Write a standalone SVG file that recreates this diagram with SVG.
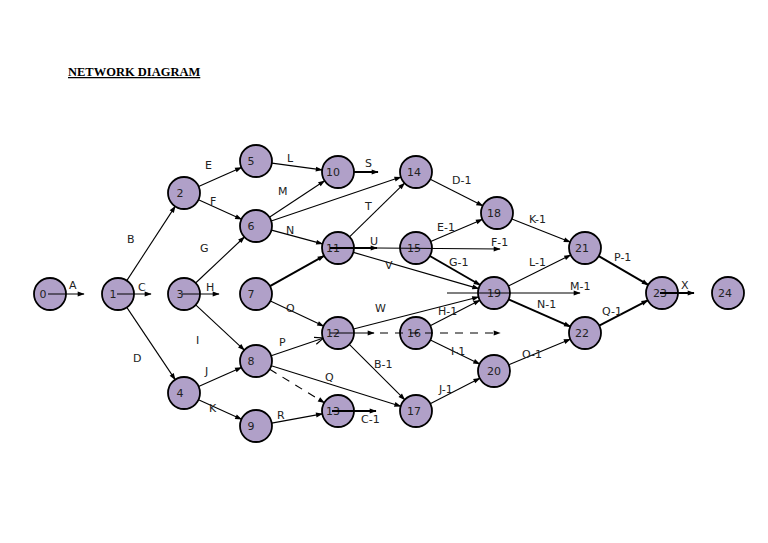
<svg xmlns="http://www.w3.org/2000/svg" width="768" height="543" viewBox="0 0 768 543">
<defs>
<marker id="a" viewBox="0 0 10 10" refX="9" refY="5" markerUnits="userSpaceOnUse" markerWidth="8" markerHeight="7" orient="auto"><path d="M0,1.5 L10,5 L0,8.5 z" fill="#000"/></marker>
<marker id="o" viewBox="0 0 10 10" refX="9" refY="5" markerUnits="userSpaceOnUse" markerWidth="9" markerHeight="9" orient="auto"><path d="M0,1 L10,5 L0,9" fill="none" stroke="#000" stroke-width="1.3"/></marker>
</defs>
<style>
.n circle{fill:#b0a0c8;stroke:#000;stroke-width:1.8}
.n text,.l{font-family:"DejaVu Sans",sans-serif;font-size:11px;fill:#222}
.n text{text-anchor:middle}
#c line{stroke:#000;stroke-width:1.1;marker-end:url(#a)}
#c line.t{stroke-width:2}
#c line.d{stroke-dasharray:8,7}
</style>
<rect width="768" height="543" fill="#fff"/>
<text x="68" y="76" font-family="Liberation Serif,serif" font-size="12.5" font-weight="bold" text-decoration="underline">NETWORK DIAGRAM</text>
<g class="n" id="n0"><circle cx="50" cy="294" r="16"/><text x="43" y="298">0</text></g>
<g class="n" id="n1"><circle cx="118" cy="294" r="16"/><text x="113" y="298">1</text></g>
<g class="n" id="n2"><circle cx="184" cy="193" r="16"/><text x="180" y="197">2</text></g>
<g class="n" id="n3"><circle cx="184" cy="294" r="16"/><text x="180" y="298">3</text></g>
<g class="n" id="n4"><circle cx="184" cy="393" r="16"/><text x="180" y="397">4</text></g>
<g class="n" id="n5"><circle cx="256" cy="161" r="16"/><text x="251" y="165">5</text></g>
<g class="n" id="n6"><circle cx="256" cy="226" r="16"/><text x="251" y="230">6</text></g>
<g class="n" id="n7"><circle cx="256" cy="294" r="16"/><text x="251" y="298">7</text></g>
<g class="n" id="n8"><circle cx="256" cy="361" r="16"/><text x="251" y="365">8</text></g>
<g class="n" id="n9"><circle cx="256" cy="426" r="16"/><text x="251" y="430">9</text></g>
<g class="n" id="n10"><circle cx="338" cy="172" r="16"/><text x="333" y="176">10</text></g>
<g class="n" id="n11"><circle cx="338" cy="248" r="16"/><text x="333" y="252">11</text></g>
<g class="n" id="n12"><circle cx="338" cy="333" r="16"/><text x="333" y="337">12</text></g>
<g class="n" id="n13"><circle cx="338" cy="411" r="16"/><text x="333" y="415">13</text></g>
<g class="n" id="n14"><circle cx="416" cy="172" r="16"/><text x="414" y="176">14</text></g>
<g class="n" id="n15"><circle cx="416" cy="248" r="16"/><text x="414" y="252">15</text></g>
<g class="n" id="n16"><circle cx="416" cy="333" r="16"/><text x="414" y="337">16</text></g>
<g class="n" id="n17"><circle cx="416" cy="411" r="16"/><text x="414" y="415">17</text></g>
<g class="n" id="n18"><circle cx="497" cy="213" r="16"/><text x="494" y="217">18</text></g>
<g class="n" id="n19"><circle cx="494" cy="293" r="16"/><text x="494" y="297">19</text></g>
<g class="n" id="n20"><circle cx="494" cy="371" r="16"/><text x="494" y="375">20</text></g>
<g class="n" id="n21"><circle cx="585" cy="248" r="16"/><text x="582" y="252">21</text></g>
<g class="n" id="n22"><circle cx="585" cy="333" r="16"/><text x="582" y="337">22</text></g>
<g class="n" id="n23"><circle cx="662" cy="293" r="16"/><text x="660" y="297">23</text></g>
<g class="n" id="n24"><circle cx="728" cy="293" r="16"/><text x="725" y="297">24</text></g>
<g id="c">
<line x1="48" y1="294" x2="84" y2="294"/>
<line x1="117" y1="294" x2="151" y2="294"/>
<line x1="182" y1="294" x2="219" y2="294"/>
<line x1="126.8" y1="280.6" x2="175.2" y2="206.4"/>
<line x1="126.8" y1="307.4" x2="175.2" y2="379.6"/>
<line x1="198.6" y1="186.5" x2="241.4" y2="167.5"/>
<line x1="198.5" y1="199.7" x2="241.5" y2="219.3"/>
<line x1="195.6" y1="283" x2="244.4" y2="237"/>
<line x1="195.7" y1="304.9" x2="244.3" y2="350.1"/>
<line x1="198.6" y1="386.5" x2="241.4" y2="367.5"/>
<line x1="198.5" y1="399.7" x2="241.5" y2="419.3"/>
<line x1="271.9" y1="163.1" x2="322.1" y2="169.9"/>
<line x1="269.4" y1="217.2" x2="324.6" y2="180.8"/>
<line x1="271.2" y1="220.9" x2="400.8" y2="177.1"/>
<line x1="271.5" y1="230.1" x2="322.5" y2="243.9"/>
<line class="t" x1="270" y1="286.2" x2="324" y2="255.8"/>
<line x1="270.4" y1="300.9" x2="323.6" y2="326.1"/>
<line x1="271.2" y1="355.8" x2="322.8" y2="338.2" style="marker-end:url(#o)"/>
<line x1="271.3" y1="365.8" x2="400.7" y2="406.2"/>
<line class="d" x1="269.7" y1="369.3" x2="324.3" y2="402.7"/>
<line x1="271.7" y1="423.1" x2="322.3" y2="413.9"/>
<line class="t" x1="354" y1="172" x2="378" y2="172"/>
<line class="t" x1="330" y1="248" x2="377" y2="248"/>
<line x1="377" y1="248" x2="500" y2="249"/>
<line x1="349.5" y1="236.8" x2="404.5" y2="183.2"/>
<line x1="353.4" y1="252.4" x2="478.6" y2="288.6"/>
<line x1="353.5" y1="329" x2="478.5" y2="297"/>
<line x1="330" y1="333" x2="374" y2="333"/>
<line class="d" x1="380" y1="333" x2="500" y2="333"/>
<line x1="349.3" y1="344.3" x2="404.7" y2="399.7"/>
<line class="t" x1="332" y1="411" x2="376" y2="411"/>
<line x1="430.3" y1="179.2" x2="482.7" y2="205.8"/>
<line x1="430.7" y1="241.6" x2="482.3" y2="219.4"/>
<line class="t" x1="429.9" y1="256" x2="480.1" y2="285"/>
<line x1="430.2" y1="325.7" x2="479.8" y2="300.3"/>
<line x1="430.4" y1="340" x2="479.6" y2="364"/>
<line x1="430.2" y1="403.7" x2="479.8" y2="378.3"/>
<line x1="511.9" y1="218.9" x2="570.1" y2="242.1"/>
<line x1="508.4" y1="285.9" x2="570.6" y2="255.1"/>
<line x1="447" y1="293" x2="580" y2="293"/>
<line class="t" x1="508.6" y1="299.4" x2="570.4" y2="326.6"/>
<line x1="508.8" y1="364.8" x2="570.2" y2="339.2"/>
<line class="t" x1="598.8" y1="256.1" x2="648.2" y2="284.9"/>
<line class="t" x1="599.2" y1="325.6" x2="647.8" y2="300.4"/>
<line class="t" x1="660" y1="293" x2="694" y2="293"/>
</g>
<g id="labels">
<text class="l" x="69" y="289">A</text><text class="l" x="127" y="243">B</text><text class="l" x="138" y="291">C</text><text class="l" x="133" y="362">D</text>
<text class="l" x="205" y="169">E</text><text class="l" x="210" y="205">F</text><text class="l" x="200" y="252">G</text><text class="l" x="206" y="291">H</text>
<text class="l" x="196" y="344">I</text><text class="l" x="205" y="375">J</text><text class="l" x="209" y="412">K</text><text class="l" x="287" y="162">L</text>
<text class="l" x="278" y="195">M</text><text class="l" x="286" y="234">N</text><text class="l" x="286" y="312">O</text><text class="l" x="279" y="346">P</text>
<text class="l" x="325" y="381">Q</text><text class="l" x="277" y="419">R</text><text class="l" x="365" y="167">S</text><text class="l" x="365" y="210">T</text>
<text class="l" x="370" y="245">U</text><text class="l" x="385" y="269">V</text><text class="l" x="375" y="312">W</text><text class="l" x="374" y="368">B-1</text>
<text class="l" x="361" y="423">C-1</text><text class="l" x="452" y="184">D-1</text><text class="l" x="437" y="231">E-1</text><text class="l" x="491" y="246">F-1</text>
<text class="l" x="449" y="266">G-1</text><text class="l" x="438" y="315">H-1</text><text class="l" x="451" y="355">I-1</text><text class="l" x="439" y="393">J-1</text>
<text class="l" x="529" y="223">K-1</text><text class="l" x="529" y="266">L-1</text><text class="l" x="570" y="290">M-1</text><text class="l" x="537" y="308">N-1</text>
<text class="l" x="522" y="358">O-1</text><text class="l" x="614" y="261">P-1</text><text class="l" x="602" y="315">Q-1</text><text class="l" x="681" y="289">X</text>
</g>
</svg>
